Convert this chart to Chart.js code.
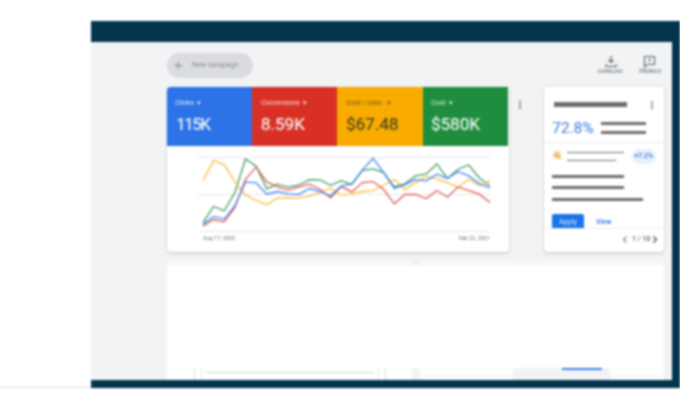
<!DOCTYPE html>
<html>
<head>
<meta charset="utf-8">
<script src="https://cdn.jsdelivr.net/npm/chart.js@4"></script>
<style>
  html, body { margin: 0; padding: 0; background: #fff; }
  body { width: 680px; height: 409px; overflow: hidden; font-family: Roboto, sans-serif; }
  #page { position: absolute; left: 0; top: 0; width: 680px; height: 409px; filter: blur(0.85px); }
  .box { position: absolute; }
  .txt { position: absolute; white-space: nowrap; line-height: 1; }
  .card { position: absolute; background: #fff; border-radius: 4px; box-shadow: 0 1px 3px rgba(60,64,67,.28); }
  .bar { position: absolute; background: #6f6f6f; }
  .tile { position: absolute; top: 87px; height: 59px; }
  .dots { position: absolute; width: 2px; height: 2px; background: #5f6368; border-radius: 50%; box-shadow: 0 -3px 0 #5f6368, 0 3px 0 #5f6368; }
  canvas { position: absolute; left: 193px; top: 150px; }
  svg { position: absolute; }
</style>
</head>
<body>
<div id="page">
  <!-- app frame -->
  <div class="box" style="left:91px;top:21px;width:589px;height:367px;background:#03354f"></div>
  <div class="box" style="left:91px;top:42px;width:581px;height:338px;background:#f1f3f4"></div>
  <div class="box" style="left:0;top:387px;width:91px;height:1px;background:#e3e3e3"></div>

  <!-- toolbar -->
  <div class="box" style="left:167px;top:53px;width:86px;height:25px;border-radius:13px;background:#dadce0"></div>
  <div class="txt" style="left:174px;top:58px;font-size:15px;font-weight:300;color:#80868b">+</div>
  <div class="txt" style="left:192px;top:62px;font-size:7px;color:#8a8e93">New campaign</div>
  <svg style="left:604px;top:55px" width="14" height="13" viewBox="0 0 14 13">
    <path d="M7 1v6M4.5 5L7 7.5 9.500 5M2 9v2.500h10V9" fill="none" stroke="#5f6368" stroke-width="1.2"/>
  </svg>
  <div class="txt" style="left:598px;top:70px;font-size:4.500px;color:#5f6368">DOWNLOAD</div>
  <svg style="left:643px;top:55px" width="13" height="13" viewBox="0 0 13 13">
    <path d="M1.500 1.500h10v8h-7l-3 2.500zM6.500 3v4" fill="none" stroke="#5f6368" stroke-width="1.100"/>
  </svg>
  <div class="txt" style="left:639px;top:70px;font-size:4.500px;color:#5f6368">FEEDBACK</div>

  <!-- main card -->
  <div class="card" style="left:167px;top:87px;width:342px;height:165px"></div>
  <div class="tile" style="left:167px;width:85px;background:#2b73e6;border-top-left-radius:4px"></div>
  <div class="tile" style="left:252px;width:85px;background:#d93025"></div>
  <div class="tile" style="left:337px;width:86px;background:#f9ab00"></div>
  <div class="tile" style="left:423px;width:85px;background:#1e8e3e"></div>
  <div class="txt" style="left:175px;top:100px;font-size:7px;color:#dce8fb">Clicks &nbsp;▾</div>
  <div class="txt" style="left:176px;top:116px;font-size:17px;letter-spacing:-1.5px;color:#fff">115K</div>
  <div class="txt" style="left:261px;top:100px;font-size:7px;color:#fbdcd9">Conversions &nbsp;▾</div>
  <div class="txt" style="left:261px;top:116px;font-size:17px;color:#fff">8.59K</div>
  <div class="txt" style="left:346px;top:100px;font-size:7px;color:#6b5a1c">Cost / conv. &nbsp;▾</div>
  <div class="txt" style="left:346px;top:116px;font-size:17px;color:#3f3b22">$67.48</div>
  <div class="txt" style="left:431px;top:100px;font-size:7px;color:#d4ecdb">Cost &nbsp;▾</div>
  <div class="txt" style="left:431px;top:116px;font-size:17px;color:#fff">$580K</div>
  <div class="dots" style="left:519px;top:104px"></div>
  <canvas id="trend-chart" width="307" height="95" style="width:307px;height:95px"></canvas>

  <!-- recommendation card -->
  <div class="card" style="left:544px;top:87px;width:120px;height:165px"></div>
  <div class="bar" style="left:554px;top:102px;width:73px;height:5px"></div>
  <div class="dots" style="left:651px;top:104px"></div>
  <div class="txt" style="left:552px;top:121px;font-size:15.500px;color:#3f7fe8">72.8%</div>
  <div class="bar" style="left:601px;top:122px;width:45px;height:3px"></div>
  <div class="bar" style="left:601px;top:131px;width:45px;height:3px"></div>
  <div class="box" style="left:544px;top:142px;width:120px;height:1px;background:#e8eaed"></div>
  <div class="box" style="left:552px;top:150px;width:10px;height:10px;border-radius:50%;background:#fdeed8"></div>
  <svg style="left:554px;top:152px" width="7" height="7" viewBox="0 0 7 7">
    <path d="M4.500 4.500L6.500 6.500M4.800 2.800a2 2 0 1 1-4 0a2 2 0 1 1 4 0" fill="none" stroke="#e8912d" stroke-width="1.100"/>
  </svg>
  <div class="bar" style="left:567px;top:152px;width:57px;height:1px"></div>
  <div class="bar" style="left:567px;top:160px;width:49px;height:1px"></div>
  <div class="box" style="left:632px;top:149px;width:24px;height:15px;border-radius:8px;background:#e8f0fe"></div>
  <div class="txt" style="left:634px;top:153px;font-size:7px;font-weight:500;color:#2f74e2">+7.2%</div>
  <div class="bar" style="left:552px;top:175px;width:72px;height:3px"></div>
  <div class="bar" style="left:552px;top:186px;width:72px;height:3px"></div>
  <div class="bar" style="left:552px;top:198px;width:91px;height:3px"></div>
  <div class="box" style="left:552px;top:214px;width:32px;height:14px;background:#1a73e8;border-radius:2px 2px 0 0"></div>
  <div class="txt" style="left:559px;top:219px;font-size:7px;color:#dce8fb">Apply</div>
  <div class="txt" style="left:596px;top:219px;font-size:7px;font-weight:500;color:#2f74e2">View</div>
  <div class="box" style="left:544px;top:228px;width:120px;height:1px;background:#e8eaed"></div>
  <svg style="left:622px;top:236px" width="6" height="7" viewBox="0 0 6 7"><path d="M4.500 .5L1.500 3.500l3 3" fill="none" stroke="#80868b" stroke-width="1.200"/></svg>
  <div class="txt" style="left:632px;top:236px;font-size:7px;font-weight:500;color:#5f6368">1 / 10</div>
  <svg style="left:652px;top:236px" width="6" height="7" viewBox="0 0 6 7"><path d="M1.500 .5L4.500 3.500l-3 3" fill="none" stroke="#3c4043" stroke-width="1.200"/></svg>

  <!-- lower cards, cut off by the frame -->
  <div class="box" style="left:167px;top:261px;width:245px;height:119px;background:#f8f9fa;border-radius:4px 4px 0 0"></div>
  <div class="box" style="left:420px;top:261px;width:244px;height:119px;background:#f8f9fa;border-radius:4px 4px 0 0"></div>
  <div class="box" style="left:167px;top:266px;width:497px;height:102px;background:#fff"></div>
  <div class="box" style="left:167px;top:368px;width:245px;height:12px;background:#fff"></div>
  <div class="box" style="left:420px;top:368px;width:244px;height:12px;background:#fff"></div>
  <div class="box" style="left:194px;top:368px;width:1px;height:12px;background:#dadce0"></div>
  <div class="box" style="left:201px;top:368px;width:1px;height:12px;background:#e4e6e8"></div>
  <div class="box" style="left:206px;top:372px;width:168px;height:1px;background:#cfd1d4"></div>
  <div class="box" style="left:378px;top:368px;width:1px;height:12px;background:#e4e6e8"></div>
  <div class="box" style="left:385px;top:368px;width:1px;height:12px;background:#dadce0"></div>
  <div class="box" style="left:420px;top:376px;width:243px;height:1px;background:#e8eaed"></div>
  <div class="box" style="left:513px;top:368px;width:97px;height:12px;background:#f1f3f4"></div>
  <div class="box" style="left:562px;top:368px;width:40px;height:2px;background:#3b7ded"></div>
</div>

<script>
// Weekly categories
const WEEKS = [
    'Aug 17, 2020', 'Aug 24, 2020', 'Aug 31, 2020', 'Sep 7, 2020', 'Sep 14, 2020', 'Sep 21, 2020', 'Sep 28, 2020',
    'Oct 5, 2020', 'Oct 12, 2020', 'Oct 19, 2020', 'Oct 26, 2020', 'Nov 2, 2020', 'Nov 9, 2020', 'Nov 16, 2020',
    'Nov 23, 2020', 'Nov 30, 2020', 'Dec 7, 2020', 'Dec 14, 2020', 'Dec 21, 2020', 'Dec 28, 2020', 'Jan 4, 2021',
    'Jan 11, 2021', 'Jan 18, 2021', 'Jan 25, 2021', 'Feb 1, 2021', 'Feb 8, 2021', 'Feb 15, 2021', 'Feb 22, 2021'
];

// Series values, relative to the chart height (no value axis is shown)
const CLICKS = [9.8, 20.4, 16.9, 34.7, 66.7, 65.3, 50.2, 53.8, 50.7, 49.8, 57.8, 53.8, 48, 60.9, 64, 82.7, 98.2, 79.1, 57.8, 63.1, 69.8, 68, 76.9, 71.6, 80.4, 74.7, 64.4, 58.2];
const CONVERSIONS = [7.6, 16, 13.3, 32.4, 70.2, 86.7, 66.7, 60, 55.6, 59.6, 63.6, 56.9, 45.3, 60.4, 53.3, 65.8, 67.1, 56.4, 37.3, 49.8, 49.8, 44.4, 55.1, 46.2, 60, 55.1, 50.2, 39.1];
const COST_PER_CONV = [68.4, 95.1, 89.8, 66.7, 48.9, 41.8, 36, 44.9, 45.3, 44.9, 47.6, 52.4, 58.2, 48.9, 50.7, 53.8, 54.7, 62.2, 70.2, 56.4, 65.3, 73.8, 70.7, 65.8, 59.6, 70.2, 61.8, 68];
const COST = [12.4, 33.8, 28, 52.4, 97.3, 87.6, 57.3, 63.6, 59.6, 62.2, 69.8, 69.3, 62.2, 68.4, 63.1, 82.2, 84, 79.1, 60, 64, 74.7, 77.3, 90.7, 71.1, 83.6, 89.3, 72, 61.3];

const COLORS = {
    blue: '#4285f4',
    red: '#db5a50',
    yellow: '#fbbc3a',
    green: '#3f9a5e',
    grid: '#e6e8ea'
};

function makeSeries(label, data, color) {
    return { label, data, borderColor: color, borderWidth: 1.3, pointRadius: 0, tension: 0, fill: false };
}

new Chart(document.getElementById('trend-chart'), {
    type: 'line',
    data: {
        labels: WEEKS,
        datasets: [
            makeSeries('Clicks', CLICKS, COLORS.blue),
            makeSeries('Conversions', CONVERSIONS, COLORS.red),
            makeSeries('Cost / conv.', COST_PER_CONV, COLORS.yellow),
            makeSeries('Cost', COST, COLORS.green)
        ]
    },
    options: {
        responsive: false,
        animation: false,
        layout: { padding: { left: 5, right: 10, top: 7, bottom: 0 } },
        plugins: { legend: { display: false }, tooltip: { enabled: false } },
        scales: {
            x: {
                offset: false,
                // fixed height, the long unused labels would otherwise take up room
                afterFit(scale) { scale.height = 13.3; },
                grid: { display: false, drawTicks: false },
                border: { display: false },
                ticks: {
                    autoSkip: false,
                    maxRotation: 0,
                    align: 'inner',
                    padding: 4,
                    color: '#6f7378',
                    font: { family: 'Roboto', size: 5.5 },
                    callback(value, index) {
                        return index === 0 || index === WEEKS.length - 1 ? WEEKS[index] : null;
                    }
                }
            },
            y: {
                min: 0,
                max: 100,
                border: { display: false },
                grid: { color: COLORS.grid, tickColor: COLORS.grid, tickLength: 5 },
                ticks: { display: false, stepSize: 50 }
            }
        }
    }
});
</script>
</body>
</html>
